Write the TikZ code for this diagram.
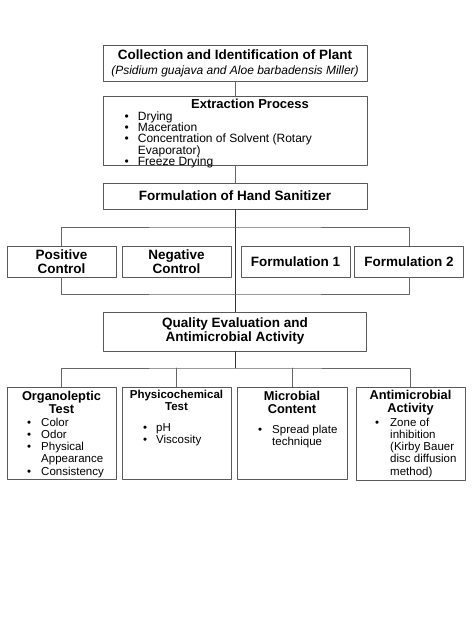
\documentclass[tikz,border=0pt]{standalone}
\usepackage{fontspec}
\setmainfont{Liberation Sans}
\usetikzlibrary{positioning}

\begin{document}
\begin{tikzpicture}[line cap=round,line join=round,x=1pt,y=-1pt,
  box/.style={draw=black!65,line width=0.8pt,minimum width=109,inner sep=0pt},
  link/.style={draw=black!60,line width=0.8pt},
  head/.style={font=\bfseries\fontsize{13.5}{14}\selectfont,align=center},
  subhead/.style={font=\bfseries\fontsize{12.8}{13}\selectfont,align=center},
  lst/.style={font=\fontsize{11.5}{12.3}\selectfont,inner sep=0pt,anchor=base west}]
\useasboundingbox (0,0) rectangle (474,632);
\node [box,minimum width=264,minimum height=36,align=center] (plant) at (235,63)
  {{\bfseries\fontsize{13.5}{14}\selectfont Collection and Identification of Plant}\\[3pt]
   {\itshape\fontsize{12}{13}\selectfont (Psidium guajava and Aloe barbadensis Miller)}};
\node [box,minimum width=264,minimum height=69] (extract) at (235,130.5) {};
\node [head,font=\bfseries\fontsize{13}{14}\selectfont] (extitle) at (250,104) {Extraction Process};
\node [lst,font=\fontsize{12}{9.3}\selectfont] (exlist) at (124.5,120)
  {\begin{tabular}[t]{@{}l@{\hspace{9pt}}l@{}}
   \textbullet & Drying\\ \textbullet & Maceration\\
   \textbullet & Concentration of Solvent (Rotary\\ & Evaporator)\\
   \textbullet & Freeze Drying\end{tabular}};
\node [box,head,minimum width=264,minimum height=26] (form) at (235,196) {Formulation of Hand Sanitizer};
\node [box,head,minimum height=31] (pos) at (61.5,261.5) {Positive\\Control};
\node [box,head,minimum height=31] (neg) at (176.5,261.5) {Negative\\Control};
\node [box,head,minimum height=31] (fone) at (295.5,261.5) {Formulation 1};
\node [box,head,minimum height=31] (ftwo) at (409,261.5) {Formulation 2};
\node [box,head,minimum width=263,minimum height=39] (quality) at (235,331.5) {Quality Evaluation and\\Antimicrobial Activity};
\node [box,minimum height=92] (org) at (61.5,433) {};
\node [box,minimum height=92] (phys) at (176.5,433) {};
\node [box,minimum width=110,minimum height=92] (micro) at (292,433) {};
\node [box,minimum height=93] (anti) at (410.5,433.5) {};
\node [subhead] (orgtitle) at (61.5,402) {Organoleptic\\Test};
\node [subhead,font=\bfseries\fontsize{11.5}{12}\selectfont] (phystitle) at (176.5,400.5) {Physicochemical\\Test};
\node [subhead] (microtitle) at (292,402) {Microbial\\Content};
\node [subhead] (antititle) at (410.5,402.5) {Antimicrobial\\Activity};
\node [lst] (orglist) at (27,426)
  {\begin{tabular}[t]{@{}l@{\hspace{10pt}}l@{}}
   \textbullet & Color\\ \textbullet & Odor\\ \textbullet & Physical\\ & Appearance\\
   \textbullet & Consistency\end{tabular}};
\node [lst] (physlist) at (143,431)
  {\begin{tabular}[t]{@{}l@{\hspace{9pt}}l@{}}
   \textbullet & pH\\ \textbullet & Viscosity\end{tabular}};
\node [lst] (microlist) at (258,433)
  {\begin{tabular}[t]{@{}l@{\hspace{10pt}}l@{}}
   \textbullet & Spread plate\\ & technique\end{tabular}};
\node [lst] (antilist) at (375,426)
  {\begin{tabular}[t]{@{}l@{\hspace{11pt}}l@{}}
   \textbullet & Zone of\\ & inhibition\\ & (Kirby Bauer\\ & disc diffusion\\ & method)\end{tabular}};
\coordinate (topbus) at (235,227);
\coordinate (lowbus) at (235,294);
\coordinate (botbus) at (235,368);
\draw [link] (plant) -- (extract);
\draw [link] (extract) -- (form);
\draw [link,draw=black!80] (form) -- (quality);
\draw [link] (pos.north) |- (topbus) -| (ftwo.north);
\draw [link] (pos.south) |- (lowbus) -| (ftwo.south);
\draw [link,draw=black!80] (quality) -- (botbus);
\draw [link] (org.north) |- (botbus) -| (anti.north);
\draw [link] (phys.north) -- (phys.north |- botbus);
\draw [link] (micro.north) -- (micro.north |- botbus);
\end{tikzpicture}
\end{document}
